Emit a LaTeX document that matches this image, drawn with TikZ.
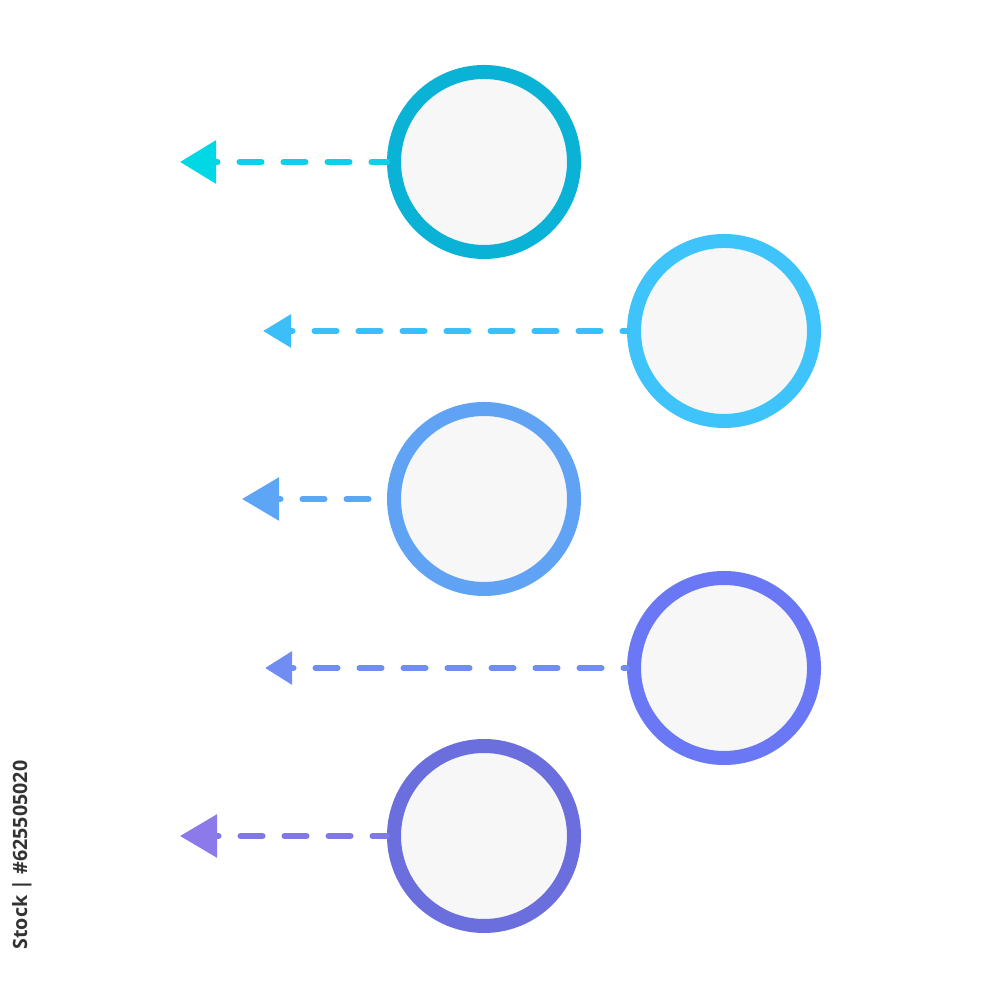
\documentclass[tikz,border=0pt]{standalone}
\usepackage{fontspec}
\setsansfont{Open Sans}
\usetikzlibrary{arrows.meta}

\definecolor{ringA}{HTML}{0AB2D6}
\definecolor{ringB}{HTML}{3EC3FA}
\definecolor{ringC}{HTML}{60A3F5}
\definecolor{ringD}{HTML}{6A78F5}
\definecolor{ringE}{HTML}{6A6FDD}
\definecolor{lineA}{HTML}{10D0E8}
\definecolor{lineB}{HTML}{3CBEF8}
\definecolor{lineC}{HTML}{5DA5F5}
\definecolor{lineD}{HTML}{6F8DF3}
\definecolor{lineE}{HTML}{7F78E6}
\definecolor{tipA}{HTML}{00D8E6}
\definecolor{tipE}{HTML}{8C79EA}
\definecolor{padfill}{HTML}{F7F7F7}

\tikzset{
  ring/.style={circle, draw=#1, fill=padfill, line width=1.4mm, minimum size=1.8cm, inner sep=0pt},
  dashline/.style={draw=#1, line width=0.6mm, line cap=round, dash pattern=on 2.2mm off 2.2mm, dash phase=1.9mm},
}

\begin{document}
\begin{tikzpicture}
			%%%%% START %%%%%
			\useasboundingbox (0, 0) rectangle (10, 10);
			
			\node[ring=ringA] (c1) at (4.84, 8.38) {};
			\node[ring=ringB] (c2) at (7.24, 6.69) {};
			\node[ring=ringC] (c3) at (4.84, 5.01) {};
			\node[ring=ringD] (c4) at (7.24, 3.32) {};
			\node[ring=ringE] (c5) at (4.84, 1.64) {};
			
			\coordinate (t1) at (1.80, 8.38);
			\coordinate (t2) at (2.63, 6.69);
			\coordinate (t3) at (2.42, 5.01);
			\coordinate (t4) at (2.65, 3.32);
			\coordinate (t5) at (1.80, 1.64);
			
			\draw[dashline=lineA, {Triangle[length=3.6mm, width=4.2mm, color=tipA]}-] (t1) -- (c1.west);
			\draw[dashline=lineB, {Triangle[length=2.8mm, width=3.2mm, color=lineB]}-] (t2) -- (c2.west);
			\draw[dashline=lineC, {Triangle[length=3.7mm, width=4.2mm, color=lineC]}-] (t3) -- (c3.west);
			\draw[dashline=lineD, {Triangle[length=2.7mm, width=3.2mm, color=lineD]}-] (t4) -- (c4.west);
			\draw[dashline=lineE, {Triangle[length=3.7mm, width=4.2mm, color=tipE]}-] (t5) -- (c5.west);
			
			\node[rotate=90, anchor=east, text=black!80, inner sep=0pt, font=\sffamily\bfseries\fontsize{5.6}{6}\selectfont] (stockid) at (0.22, 2.40) {Stock | \#625505020};
			
			%%%%% END %%%%%
		\end{tikzpicture}
\end{document}
